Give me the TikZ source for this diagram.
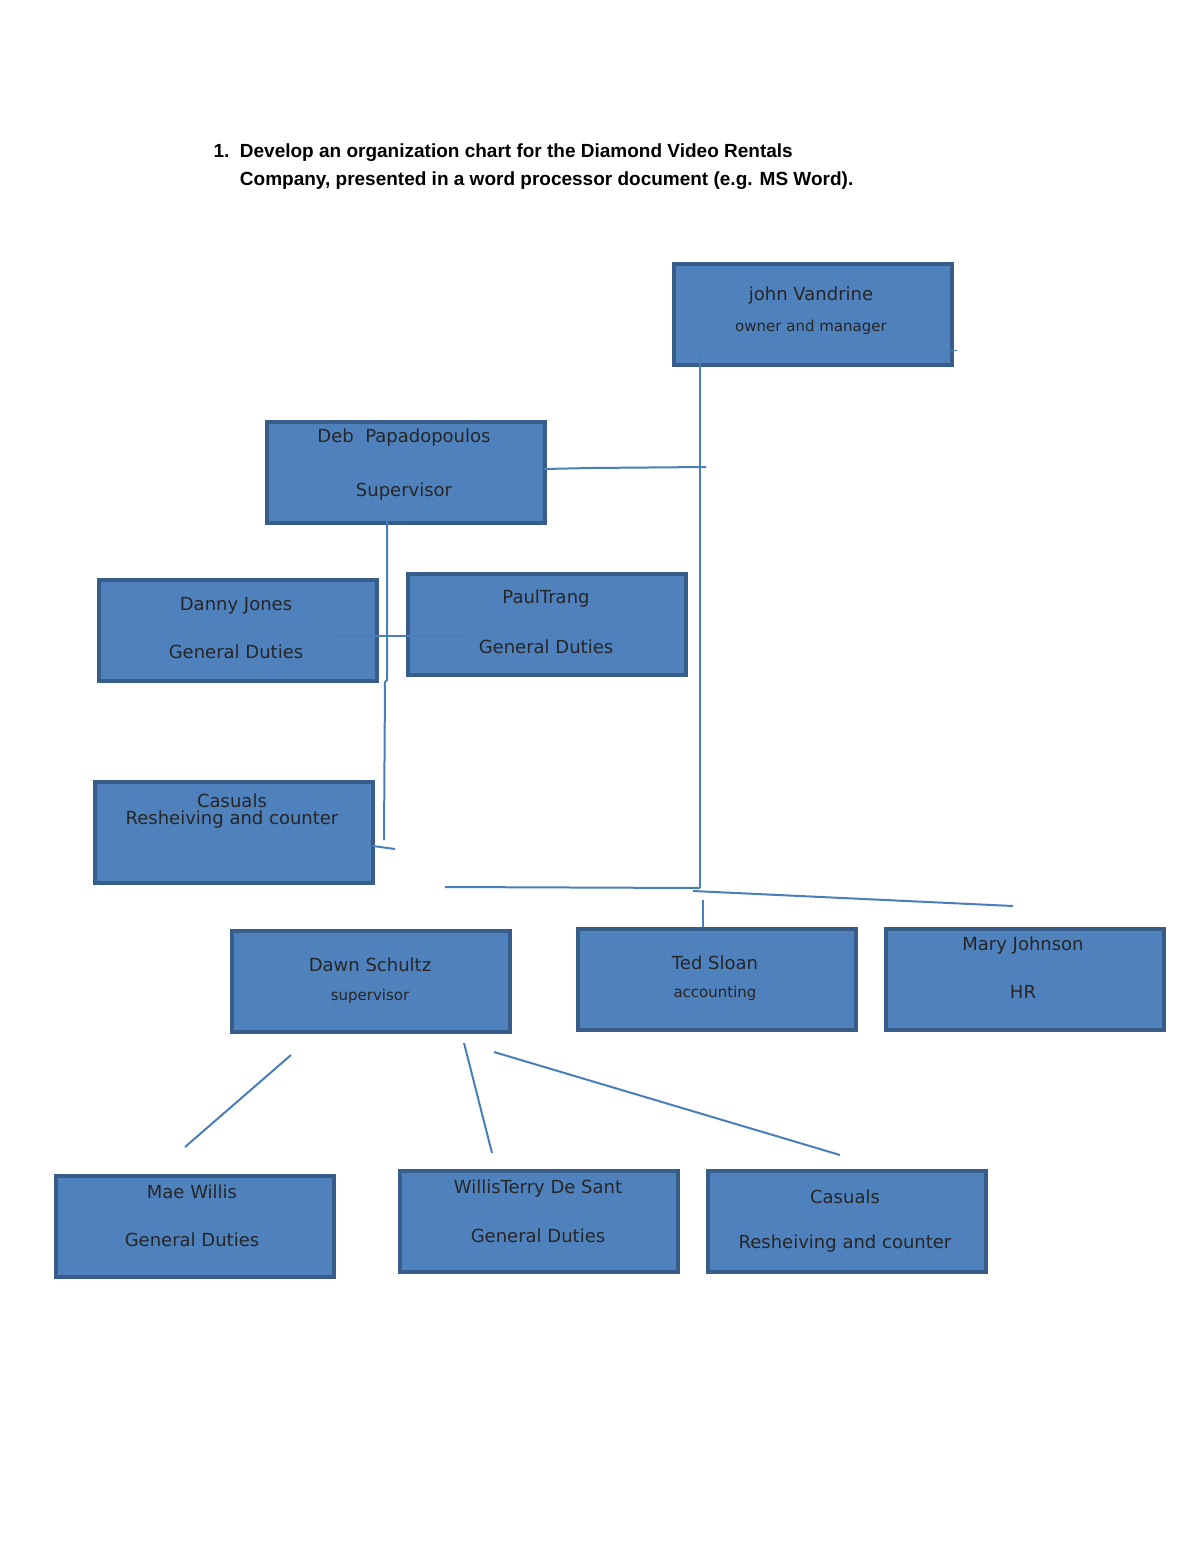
\documentclass[tikz,border=0pt]{standalone}
\usepackage{fontspec}
\setmainfont{DejaVu Sans}
\newfontfamily\titlefont{Liberation Sans}
\begin{document}
\begin{tikzpicture}[x=1pt,y=-1pt,
 box/.style={draw=boxedge,fill=boxfill,line width=4pt,minimum width=278pt,minimum height=101pt,inner sep=0pt,anchor=north west},
 txt/.style={text=black!85,font=\fontsize{18}{20}\selectfont},
 stxt/.style={text=black!85,font=\fontsize{15}{18}\selectfont},
 ln/.style={draw=linecol,line width=2pt}]
\definecolor{boxfill}{HTML}{4F81BD}
\definecolor{boxedge}{HTML}{385D8A}
\definecolor{linecol}{HTML}{4A7EBB}
\useasboundingbox (0,0) rectangle (1200,1553);
\node[anchor=north west,align=left,font=\titlefont\bfseries\fontsize{19}{28}\selectfont] (title) at (210,140)
 {1.\ \ Develop an organization chart for the Diamond Video Rentals\\\hphantom{1.\ \ }Company, presented in a word processor document (e.g. MS Word).};
% boxes
\node[box] (john) at (672,262) {};
\node[txt] (j1) at (811,296) {john Vandrine};
\node[stxt] (j2) at (811,327) {owner and manager};
\node[box] (deb) at (265,420) {};
\node[txt] (d1) at (404,438) {Deb\ \ Papadopoulos};
\node[txt] (d2) at (404,492) {Supervisor};
\node[box] (danny) at (97,578) {};
\node[txt] at (236,606) {Danny Jones};
\node[txt] at (236,652) {General Duties};
\node[box] (paul) at (406,572) {};
\node[txt] at (546,599) {PaulTrang};
\node[txt] at (546,647) {General Duties};
\node[box] (cas1) at (93,780) {};
\node[txt,align=center] at (232,811) {Casuals\\[-3pt]Resheiving and counter};
\node[box] (dawn) at (230,929) {};
\node[txt] at (370,965) {Dawn Schultz};
\node[stxt] at (370,996) {supervisor};
\node[box] (ted) at (576,927) {};
\node[txt] at (715,963) {Ted Sloan};
\node[stxt] at (715,993) {accounting};
\node[box] (mary) at (884,927) {};
\node[txt] at (1023,946) {Mary Johnson};
\node[txt] at (1023,992) {HR};
\node[box] (mae) at (54,1174) {};
\node[txt] at (192,1192) {Mae Willis};
\node[txt] at (192,1240) {General Duties};
\node[box] (willis) at (398,1169) {};
\node[txt] at (538,1189) {WillisTerry De Sant};
\node[txt] at (538,1236) {General Duties};
\node[box] (cas2) at (706,1169) {};
\node[txt] at (845,1197) {Casuals};
\node[txt] at (845,1244) {Resheiving and counter};
% connectors
\coordinate (jA) at (700,350); \coordinate (jB) at (957,350); \coordinate (jC) at (700,888);
\draw[linecol,line width=1pt] (jA) -- (jB);
\draw[ln] (jA) -- (jC);
\coordinate (dA) at (544,469); \coordinate (dB) at (590,468); \coordinate (dC) at (706,467);
\draw[ln] (dA) -- (dB) -- (dC);
\coordinate (sA) at (387,521); \coordinate (sB) at (387,680); \coordinate (sC) at (385,682); \coordinate (sD) at (384,840);
\draw[ln] (sA) -- (sB) -- (sC) -- (sD);
\coordinate (cA) at (373,846); \coordinate (cB) at (395,849);
\draw[ln] (cA) -- (cB);
\coordinate (pA) at (335,636); \coordinate (pB) at (465,636);
\draw[ln] (pA) -- (pB);
\coordinate (hA) at (445,887);
\draw[ln] (hA) -- (jC);
\coordinate (hB) at (693,891); \coordinate (hC) at (1013,906);
\draw[ln] (hB) -- (hC);
\coordinate (tA) at (703,900);
\draw[ln] (tA) -- (ted.north -| tA);
\coordinate (w1) at (291,1055); \coordinate (w2) at (185,1147);
\coordinate (w3) at (464,1043); \coordinate (w4) at (492,1153);
\coordinate (w5) at (494,1052); \coordinate (w6) at (840,1155);
\draw[ln] (w1) -- (w2); \draw[ln] (w3) -- (w4); \draw[ln] (w5) -- (w6);
\end{tikzpicture}
\end{document}
